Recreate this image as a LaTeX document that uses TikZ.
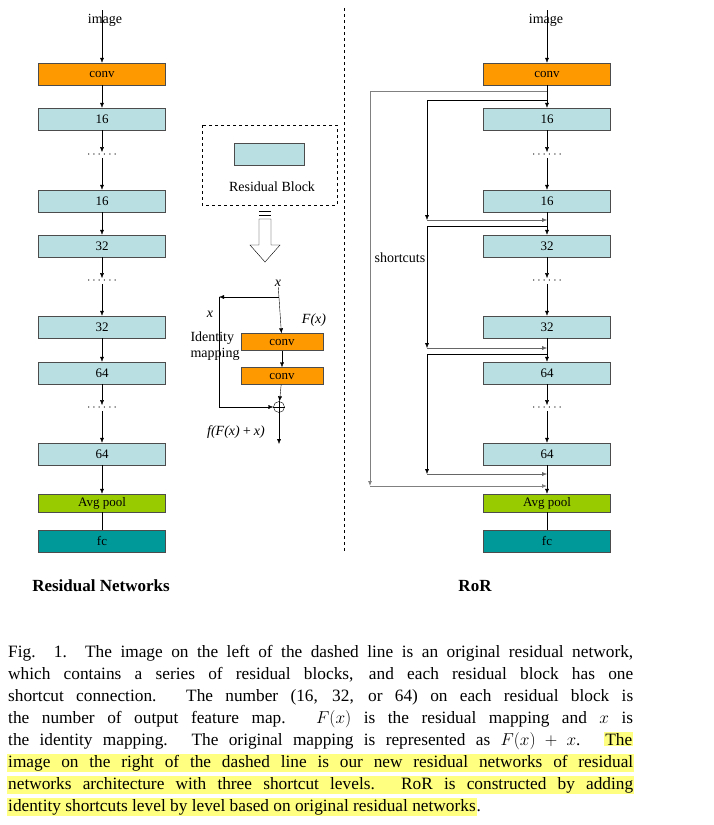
\documentclass[tikz,border=0pt]{standalone}
\usepackage{fontspec}
\setmainfont{Liberation Serif}
\usepackage{xcolor}
\usetikzlibrary{arrows.meta}
\definecolor{convorange}{HTML}{FF9900}
\definecolor{blockblue}{HTML}{B9DFE3}
\definecolor{poolgreen}{HTML}{99CC00}
\definecolor{fcteal}{HTML}{009999}
\definecolor{hlyellow}{HTML}{FFFF80}
\newcommand{\hlbox}[1]{{\setlength\fboxsep{1pt}\colorbox{hlyellow}{#1}}}
\newcommand{\capline}[1]{\makebox[625pt][s]{#1}}
\tikzset{
 blk/.style={draw=black!70,minimum width=127pt,minimum height=22pt,inner sep=0pt,font=\fontsize{13}{15}\selectfont},
 conv/.style={blk,fill=convorange},
 res/.style={blk,fill=blockblue},
 pool/.style={blk,fill=poolgreen,minimum height=18pt},
 fc/.style={blk,fill=fcteal,minimum height=22pt},
 dots/.style={inner sep=0pt,font=\fontsize{13}{15}\selectfont},
 arr/.style={-{Latex[length=5pt,width=4pt]}},
 lbl/.style={font=\fontsize{14}{16}\selectfont,inner sep=1pt},
 capl/.style={anchor=base west,inner sep=0pt,font=\fontsize{17.3}{22}\selectfont},
}
\begin{document}
\begin{tikzpicture}[x=1pt,y=-1pt]
\useasboundingbox (0,0) rectangle (714,825);

% left column
\node (limg) [lbl] at (105,20) {image};
\node (lc) [conv] at (102,74) {conv};
\node (l1) [res] at (102,119) {16};
\node (ld1) [dots] at (102,155) {$\cdots\cdots$};
\node (l2) [res] at (102,201) {16};
\node (l3) [res] at (102,246) {32};
\node (ld2) [dots] at (102,281) {$\cdots\cdots$};
\node (l4) [res] at (102,327) {32};
\node (l5) [res] at (102,373) {64};
\node (ld3) [dots] at (102,408) {$\cdots\cdots$};
\node (l6) [res] at (102,454) {64};
\node (lp) [pool] at (102,503) {Avg pool};
\node (lf) [fc] at (102,541) {fc};
\draw[arr] (102,10) -- (lc);
\foreach \a/\b in {lc/l1,l1/ld1,ld1/l2,l2/l3,l3/ld2,ld2/l4,l4/l5,l5/ld3,ld3/l6,l6/lp}
  \draw[arr] (\a) -- (\b);
\draw (lp) -- (lf);

% right column
\node (rimg) [lbl] at (546,20) {image};
\node (rc) [conv] at (547,74) {conv};
\node (r1) [res] at (547,119) {16};
\node (rd1) [dots] at (547,155) {$\cdots\cdots$};
\node (r2) [res] at (547,201) {16};
\node (r3) [res] at (547,246) {32};
\node (rd2) [dots] at (547,281) {$\cdots\cdots$};
\node (r4) [res] at (547,327) {32};
\node (r5) [res] at (547,373) {64};
\node (rd3) [dots] at (547,408) {$\cdots\cdots$};
\node (r6) [res] at (547,454) {64};
\node (rp) [pool] at (547,503) {Avg pool};
\node (rf) [fc] at (547,541) {fc};
\draw[arr] (547,10) -- (rc);
\foreach \a/\b in {rc/r1,r1/rd1,rd1/r2,r2/r3,r3/rd2,rd2/r4,r4/r5,r5/rd3,rd3/r6,r6/rp}
  \draw[arr] (\a) -- (\b);
\draw (rp) -- (rf);

% shortcuts
\draw[arr,black!50,thick] (547,91) -- (370,91) -- (370,486);
\draw[arr,black!50,thick] (370,486) -- (547,486);
\foreach \t/\u in {100/220,226/348,354/474}{
  \draw[arr] (547,\t) -- (427,\t) -- (427,\u);
  \draw[arr,black!60] (427,\u) -- (547,\u);
}
\node (sc) [lbl,fill=white] at (400,258) {shortcuts};

% dashed divider
\draw[dashed] (344,8) -- (344,552);

% residual block legend
\draw[dashed] (202,125) rectangle (337,205);
\node (rb) [res,minimum width=70pt] at (269,154) {};
\node (rbl) [lbl] at (272,187) {Residual Block};
\draw (259,211) -- (271,211) (259,215) -- (271,215);
\draw (259,219) -- (271,219) -- (271,245) -- (280,245) -- (265,262) -- (250,245) -- (259,245) -- cycle;

% block detail
\node (bx) [lbl,font=\fontsize{14}{16}\selectfont\itshape] at (278,283) {x};
\node (b1) [conv,minimum width=82pt,minimum height=17pt] at (282,342) {conv};
\node (b2) [conv,minimum width=82pt,minimum height=17pt] at (282,376) {conv};
\node (sum) [circle,draw,inner sep=0pt,minimum size=11pt] at (279,407) {};
\draw (sum.north) -- (sum.south) (sum.west) -- (sum.east);
\coordinate (br) at (279,297);
\coordinate (bl) at (219,297);
\coordinate (bb) at (219,407);
\coordinate (out) at (279,444);
\draw[arr] (bx) -- (b1);
\draw[arr] (br) -- (bl);
\draw (bl) -- (bb);
\draw[arr] (bb) -- (sum);
\draw[arr] (b1) -- (b2);
\draw[arr] (b2) -- (sum);
\draw[arr] (sum) -- (out);
\node (ix) [lbl,font=\fontsize{14}{16}\selectfont\itshape] at (210,314) {x};
\node (idm) [lbl,align=left,font=\fontsize{14}{16}\selectfont] at (215,346) {Identity\\mapping};
\node (fx) [lbl,font=\fontsize{14}{16}\selectfont\itshape] at (314,320) {F(x)};
\node (ff) [lbl,font=\fontsize{14}{16}\selectfont\itshape] at (236,432) {f(F(x)\,+\,x)};

% titles
\node (lt) [font=\fontsize{17}{20}\selectfont\bfseries] at (101,586) {Residual Networks};
\node (rt) [font=\fontsize{17}{20}\selectfont\bfseries] at (475,586) {RoR};

% caption
\node (c1) [capl] at (8,657) {\capline{Fig. 1. The image on the left of the dashed line is an original residual network,}};
\node (c2) [capl] at (8,679) {\capline{which contains a series of residual blocks, and each residual block has one}};
\node (c3) [capl] at (8,701) {\capline{shortcut connection. The number (16, 32, or 64) on each residual block is}};
\node (c4) [capl] at (8,723) {\capline{the number of output feature map. $F(x)$ is the residual mapping and $x$ is}};
\node (c5) [capl] at (8,745) {\capline{the identity mapping. The original mapping is represented as $F(x)+x$. \hlbox{The}}};
\node (c6) [capl] at (7,767) {\hlbox{\capline{image on the right of the dashed line is our new residual networks of residual}}};
\node (c7) [capl] at (7,789) {\hlbox{\capline{networks architecture with three shortcut levels. RoR is constructed by adding}}};
\node (c8) [capl] at (7,811) {\hlbox{identity shortcuts level by level based on original residual networks}.};
\end{tikzpicture}
\end{document}
